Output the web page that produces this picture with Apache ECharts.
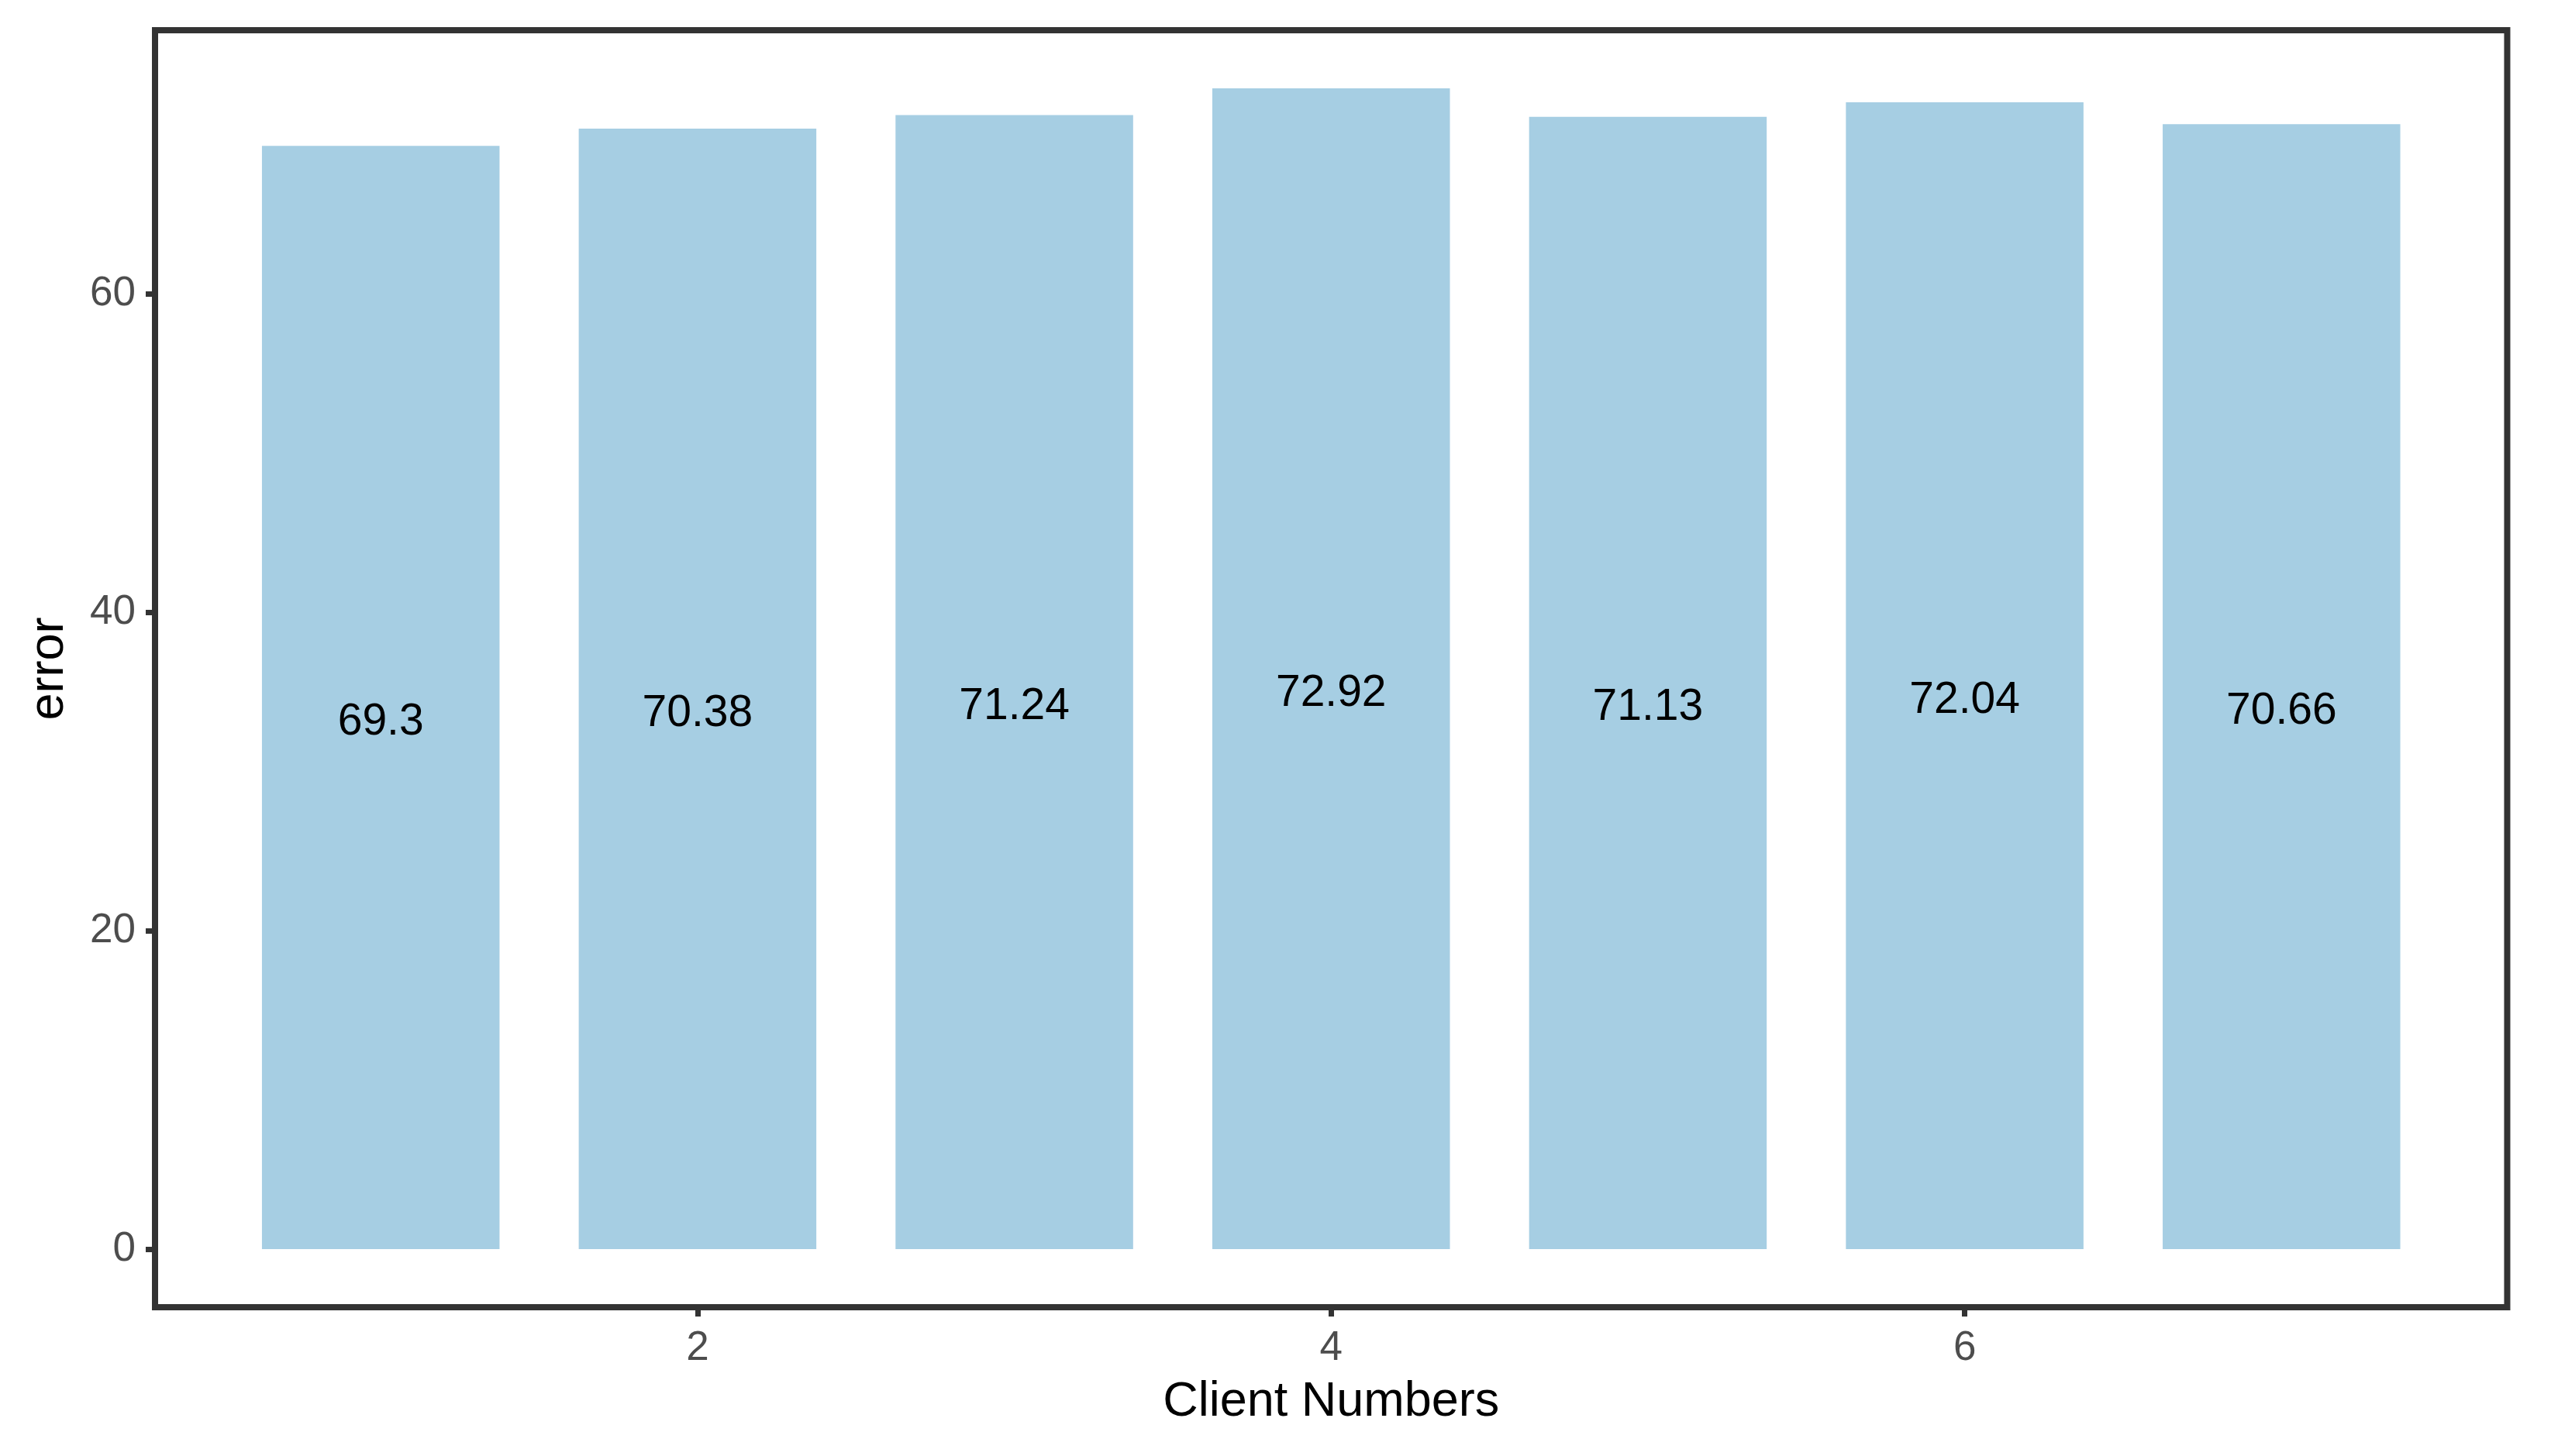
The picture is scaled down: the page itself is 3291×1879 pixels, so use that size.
<!DOCTYPE html>
<html>
<head>
<meta charset="utf-8">
<script src="https://cdn.jsdelivr.net/npm/echarts@6/dist/echarts.min.js"></script>
<style>
html,body{margin:0;padding:0;background:#fff;}
#chart{width:3291px;height:1879px;}
</style>
</head>
<body>
<div id="chart"></div>
<script>
var clientNumbers = [1, 2, 3, 4, 5, 6, 7];
var errorValues = [69.3, 70.38, 71.24, 72.92, 71.13, 72.04, 70.66];
var xTickValues = [2, 4, 6];
var yTickValues = [0, 20, 40, 60];

var FONT = "'Liberation Sans', Arial, sans-serif";
var barData = clientNumbers.map(function (c, i) { return [c, errorValues[i]]; });

var chart = echarts.init(document.getElementById('chart'), null, {renderer: 'canvas'});
chart.setOption({
  animation: false,
  backgroundColor: '#ffffff',
  grid: {
    left: 200, right: 56.5, top: 39, bottom: 192,
    show: true, borderColor: '#333333', borderWidth: 8, backgroundColor: 'transparent',
    containLabel: false
  },
  xAxis: {
    type: 'value',
    position: 'bottom',
    min: 0.2875, max: 7.7125,
    name: 'Client Numbers',
    nameLocation: 'middle',
    nameGap: 91,
    nameTextStyle: {fontFamily: FONT, fontSize: 63, color: '#000000', verticalAlign: 'top'},
    axisLine: {show: false, onZero: false},
    splitLine: {show: false},
    axisTick: {show: true, inside: false, length: 12, customValues: xTickValues,
      lineStyle: {color: '#333333', width: 7}},
    axisLabel: {show: true, customValues: xTickValues, margin: 27,
      fontFamily: FONT, fontSize: 53, color: '#4D4D4D', verticalAlign: 'top'}
  },
  yAxis: {
    type: 'value',
    position: 'left',
    min: -3.646, max: 76.566,
    name: 'error',
    nameLocation: 'middle',
    nameGap: 105,
    nameRotate: 90,
    nameTextStyle: {fontFamily: FONT, fontSize: 63, color: '#000000'},
    axisLine: {show: false, onZero: false},
    splitLine: {show: false},
    axisTick: {show: true, inside: false, length: 12, customValues: yTickValues,
      lineStyle: {color: '#333333', width: 7}},
    axisLabel: {show: true, customValues: yTickValues, margin: 25,
      fontFamily: FONT, fontSize: 53, color: '#4D4D4D'}
  },
  series: [{
    type: 'bar',
    data: barData,
    barWidth: '75%',
    itemStyle: {color: '#A6CEE3'},
    label: {
      show: true,
      position: 'inside',
      offset: [0, 32],
      fontFamily: FONT,
      fontSize: 57,
      color: '#000000',
      formatter: function (p) { return String(p.value[1]); }
    }
  }]
});
</script>
</body>
</html>
